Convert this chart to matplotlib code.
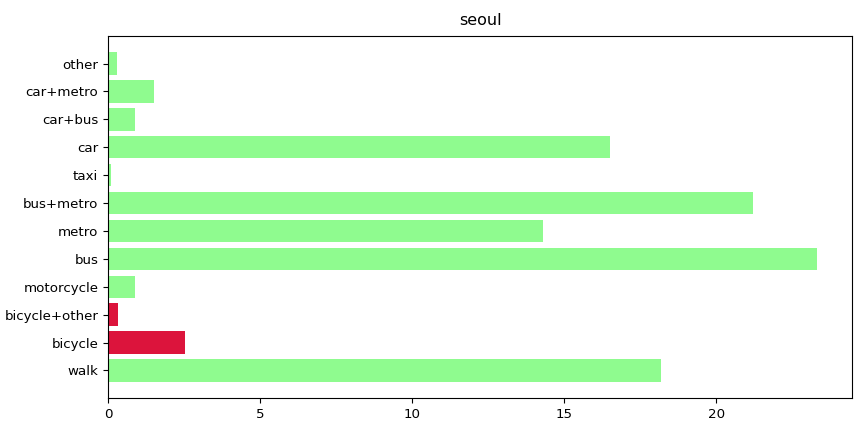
import matplotlib
matplotlib.use("Agg")
import matplotlib.pyplot as plt

categories = ["walk", "bicycle", "bicycle+other", "motorcycle", "bus", "metro",
              "bus+metro", "taxi", "car", "car+bus", "car+metro", "other"]
values = [18.2, 2.53, 0.32, 0.9, 23.3, 14.3, 21.2, 0.1, 16.5, 0.9, 1.5, 0.3]
highlight = ["bicycle", "bicycle+other"]

colors = ["crimson" if c in highlight else "#8ffb8f" for c in categories]

plt.rcParams["font.size"] = 9.6
fig = plt.figure(figsize=(8.63, 4.34), dpi=100)
ax = fig.add_axes([108/863, 1 - 398/434, (852-108)/863, (398-36)/434])
ax.barh(categories, values, color=colors)
ax.set_title("seoul", fontsize=11.5, pad=8)
fig.savefig("out.png", dpi=100)
